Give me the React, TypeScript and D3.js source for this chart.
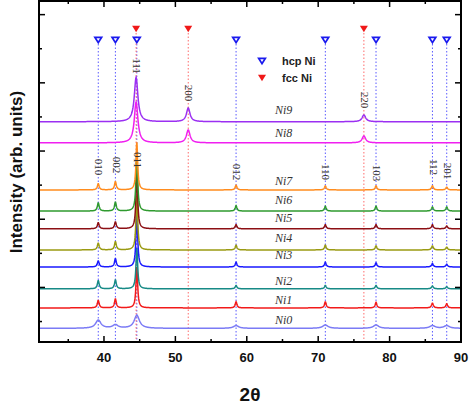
import React from 'react';
import * as d3 from 'd3';

// peak positions (2θ)
const hcpPeaks = [39.2, 41.6, 44.6, 58.5, 71.0, 78.1, 86.0, 88.0];
const hcpLabels = ['010', '002', '011', '012', '110', '103', '112', '201'];
const fccPeaks = [44.5, 51.8, 76.4];
const fccLabels = ['111', '200', '220'];

const sampleNames = ['Ni0', 'Ni1', 'Ni2', 'Ni3', 'Ni4', 'Ni5', 'Ni6', 'Ni7', 'Ni8', 'Ni9'];
const sampleColors = ['#7b7bf5', '#f21a1a', '#178a86', '#1a1aff', '#9a9a12', '#8c0f14', '#2f9a2f', '#ff8c1e', '#f01ff0', '#9b2ff2'];
const baselines = [-0.6, -0.3, -0.02, 0.3, 0.55, 0.86, 1.12, 1.43, 2.12, 2.43];

// peak heights (hcp samples, one value per hcp reflection)
const hcpHeights = [
  [0.12, 0.05, 0.19, 0.04, 0.05, 0.05, 0.04, 0.04],
  [0.11, 0.13, 0.6, 0.09, 0.09, 0.08, 0.07, 0.06],
  [0.12, 0.13, 0.6, 0.05, 0.05, 0.05, 0.04, 0.03],
  [0.09, 0.12, 0.8, 0.07, 0.07, 0.06, 0.05, 0.04],
  [0.1, 0.12, 0.8, 0.07, 0.07, 0.06, 0.06, 0.04],
  [0.09, 0.1, 0.85, 0.06, 0.06, 0.06, 0.06, 0.04],
  [0.12, 0.13, 0.85, 0.08, 0.07, 0.07, 0.06, 0.06],
  [0.09, 0.12, 0.7, 0.07, 0.06, 0.06, 0.06, 0.04],
];
const hcpWidths = [0.15, 0.15, 0.14, 0.14, 0.14, 0.14, 0.15, 0.15];
const ni0Width = 0.45;
// fcc samples Ni8, Ni9
const fccHeights = [
  [0.6, 0.19, 0.1],
  [0.65, 0.2, 0.1],
];
const fccWidth = 0.3;

const labelY = [-0.53, -0.24, 0.03, 0.42, 0.67, 0.96, 1.23, 1.5, 2.2, 2.54];
const hcpLabelPos = [167, 165, 160, 172, 172, 173, 167, 171];
const fccLabelPos = [66, 93, 100];

const xTicks = [40, 50, 60, 70, 80, 90];

const W = 474;
const H = 412;
const m = { left: 39, right: 461, top: 1, bottom: 342 };

export default function App() {
  const x = d3.scaleLinear().domain([30.9, 90]).range([m.left, m.right]);
  const y = d3.scaleLinear().domain([-0.8, 4.2]).range([m.bottom, m.top]);

  const grid = d3.range(30.9, 90.001, 0.04);

  const series = sampleNames.map((name, i) => {
    const isFcc = i >= 8;
    const pts = grid.map((t) => {
      let v = baselines[i];
      if (isFcc) {
        fccPeaks.forEach((p, k) => {
          v += fccHeights[i - 8][k] / (1 + ((t - p) / fccWidth) ** 2);
        });
      } else {
        hcpPeaks.forEach((p, k) => {
          const w = i === 0 ? ni0Width : hcpWidths[k];
          v += hcpHeights[i][k] / (1 + ((t - p) / w) ** 2);
        });
      }
      return [t, v] as [number, number];
    });
    return { name, color: sampleColors[i], pts };
  });

  const line = d3
    .line<[number, number]>()
    .x((d) => x(d[0]))
    .y((d) => y(d[1]));

  const tri = (cx: number, cy: number, s: number) =>
    `M${cx - s},${cy - s * 0.8}L${cx + s},${cy - s * 0.8}L${cx},${cy + s * 0.8}Z`;

  const minorX = d3.range(35, 90, 10);
  const yMajor = [0, 1, 2, 3, 4];
  const yMinor = [-0.5, 0.5, 1.5, 2.5, 3.5];

  return (
    <svg width={W} height={H} style={{ position: 'absolute', left: 0, top: 0 }}>
      <rect width={W} height={H} fill="#fff" />
      {/* reference lines */}
      {hcpPeaks.map((p, i) => (
        <line key={'hl' + i} x1={x(p)} x2={x(p)} y1={44} y2={m.bottom} stroke="#5a5aff" strokeWidth={1} strokeDasharray="1.5,2" />
      ))}
      {fccPeaks.map((p, i) => (
        <line key={'fl' + i} x1={x(p)} x2={x(p)} y1={33} y2={m.bottom} stroke="#ff6a6a" strokeWidth={1} strokeDasharray="1.5,2" />
      ))}

      {series.map((s) => (
        <path key={s.name} d={line(s.pts) ?? ''} fill="none" stroke={s.color} strokeWidth={1.5} />
      ))}

      {/* markers */}
      {hcpPeaks.map((p, i) => (
        <path key={'hm' + i} d={tri(x(p), 40, 3.3)} fill="none" stroke="#1a1aee" strokeWidth={1.8} />
      ))}
      {fccPeaks.map((p, i) => (
        <path key={'fm' + i} d={tri(x(p), 29, 4)} fill="#f01818" />
      ))}

      {/* legend */}
      <path d={tri(262, 61, 3.3)} fill="none" stroke="#1a1aee" strokeWidth={1.8} />
      <text x={282} y={65} fontFamily="Arial, Liberation Sans, sans-serif" fontWeight="bold" fontSize={11} fill="#222">hcp Ni</text>
      <path d={tri(262, 78, 4)} fill="#f01818" />
      <text x={282} y={82} fontFamily="Arial, Liberation Sans, sans-serif" fontWeight="bold" fontSize={11} fill="#222">fcc Ni</text>

      {/* hkl labels */}
      {fccPeaks.map((p, i) => (
        <text key={'fk' + i} transform={`translate(${x(p) + 1},${fccLabelPos[i]}) rotate(90)`} textAnchor="middle" dy="0.35em"
          fontFamily="Times New Roman, Liberation Serif, serif" fontSize={11} fill="#333">{fccLabels[i]}</text>
      ))}
      {hcpPeaks.map((p, i) => (
        <text key={'hk' + i} transform={`translate(${x(p) + 1},${hcpLabelPos[i]}) rotate(90)`} textAnchor="middle" dy="0.35em"
          fontFamily="Times New Roman, Liberation Serif, serif" fontSize={11} fill="#333">{hcpLabels[i]}</text>
      ))}

      {/* sample names */}
      {sampleNames.map((n, i) => (
        <text key={'sn' + i} x={275} y={y(labelY[i])} fontFamily="Times New Roman, Liberation Serif, serif" fontStyle="italic" fontSize={12} fill="#333">{n}</text>
      ))}

      {/* frame */}
      <rect x={m.left} y={m.top} width={m.right - m.left} height={m.bottom - m.top} fill="none" stroke="#000" strokeWidth={2} />
      {xTicks.map((t) => (
        <g key={'xt' + t}>
          <line x1={x(t)} x2={x(t)} y1={m.bottom} y2={m.bottom - 6} stroke="#000" strokeWidth={1.5} />
          <line x1={x(t)} x2={x(t)} y1={m.top} y2={m.top + 6} stroke="#000" strokeWidth={1.5} />
          <text x={x(t)} y={362} textAnchor="middle" fontFamily="Arial, Liberation Sans, sans-serif" fontWeight="bold" fontSize={13} fill="#111">{t}</text>
        </g>
      ))}
      {minorX.map((t) => (
        <g key={'xm' + t}>
          <line x1={x(t)} x2={x(t)} y1={m.bottom} y2={m.bottom - 3} stroke="#000" strokeWidth={1.5} />
          <line x1={x(t)} x2={x(t)} y1={m.top} y2={m.top + 3} stroke="#000" strokeWidth={1.5} />
        </g>
      ))}
      {yMajor.map((t) => (
        <g key={'ym' + t}>
          <line x1={m.left} x2={m.left + 6} y1={y(t)} y2={y(t)} stroke="#000" strokeWidth={1.5} />
          <line x1={m.right} x2={m.right - 6} y1={y(t)} y2={y(t)} stroke="#000" strokeWidth={1.5} />
        </g>
      ))}
      {yMinor.map((t) => (
        <g key={'yn' + t}>
          <line x1={m.left} x2={m.left + 3} y1={y(t)} y2={y(t)} stroke="#000" strokeWidth={1.5} />
          <line x1={m.right} x2={m.right - 3} y1={y(t)} y2={y(t)} stroke="#000" strokeWidth={1.5} />
        </g>
      ))}

      <text x={250} y={401} textAnchor="middle" fontFamily="Arial, Liberation Sans, sans-serif" fontWeight="bold" fontSize={19} fill="#111">2θ</text>
      <text transform={`translate(22,172) rotate(-90)`} textAnchor="middle" fontFamily="Arial, Liberation Sans, sans-serif" fontWeight="bold" fontSize={17} fill="#111">Intensity (arb. units)</text>
    </svg>
  );
}
